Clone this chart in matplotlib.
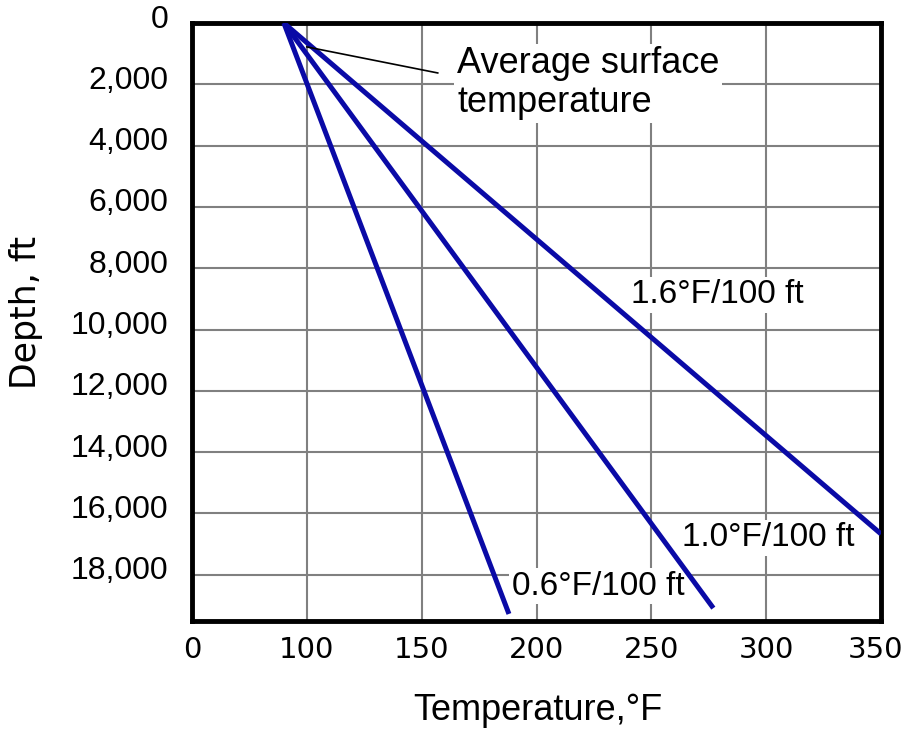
import matplotlib
matplotlib.use("Agg")
import matplotlib.pyplot as plt
from matplotlib.transforms import ScaledTranslation

# values
surface_temp = 90            # deg F at 0 ft
gradient_labels = ["0.6°F/100 ft", "1.0°F/100 ft", "1.6°F/100 ft"]
end_temps = [188, 277, 350]      # deg F where each line stops
end_depths = [19280, 19090, 16670]  # ft where each line stops

# x axis is broken: the first cell spans 0-100, the rest 50 each
x_ticks = [50, 100, 150, 200, 250, 300, 350]
x_ticklabels = ["0", "100", "150", "200", "250", "300", "350"]
y_ticks = list(range(0, 18001, 2000))
y_ticklabels = ["0"] + ["{:,}".format(d) for d in y_ticks[1:]]

blue = "#0a0aa6"
narrow = ["Liberation Sans Narrow", "DejaVu Sans Condensed"]
plain = ["Liberation Sans", "DejaVu Sans"]

fig = plt.figure(figsize=(9.07, 7.32), dpi=100)
ax = fig.add_axes([192/907, 1-621/732, (881-192)/907, (621-23)/732])

for t, d in zip(end_temps, end_depths):
    ax.plot([surface_temp, t], [0, d], color=blue, lw=3.6, solid_capstyle="butt", zorder=3)

ax.set_xlim(50, 350)
ax.set_ylim(19510, 0)
ax.set_xticks(x_ticks)
ax.set_xticklabels(x_ticklabels, family=narrow, fontsize=21)
ax.set_yticks(y_ticks)
ax.set_yticklabels(y_ticklabels, family=plain, fontsize=23)
ax.tick_params(axis="both", length=0)
ax.tick_params(axis="x", pad=11)
ax.tick_params(axis="y", pad=17)
for lab in ax.get_yticklabels():
    lab.set_transform(lab.get_transform() + ScaledTranslation(0, 5/72, fig.dpi_scale_trans))
# keep the last label inside the picture
ax.get_xticklabels()[-1].set_transform(
    ax.get_xticklabels()[-1].get_transform() + ScaledTranslation(-4/72, 0, fig.dpi_scale_trans))

ax.grid(True, color="#808080", lw=1.5)
ax.set_axisbelow(True)
for s in ax.spines.values():
    s.set_linewidth(3.5)
    s.set_color("black")

box = dict(facecolor="white", edgecolor="none", pad=2)

# surface temperature callout
ax.plot([100, 157], [780, 1630], color="black", lw=1.2, zorder=3)
ax.text(165.4, 1960, "Average surface\ntemperature", family=plain, fontsize=26,
        ha="left", va="center", linespacing=1.12, bbox=box, zorder=1.5)

label_pos = [(226.8, 18370), (301.1, 16800), (278.9, 8870)]
for lab, (x, y) in zip(gradient_labels, label_pos):
    ax.text(x, y, lab, family=plain, fontsize=24, ha="center", va="center",
            bbox=box, zorder=1.5)

fig.text(538/907, 1-710/732, "Temperature,°F", family=plain, fontsize=26,
         ha="center", va="center")
fig.text(26/907, 1-312/732, "Depth, ft", family=narrow, fontsize=25,
         ha="center", va="center", rotation=90)

fig.savefig("out.png", dpi=100)
